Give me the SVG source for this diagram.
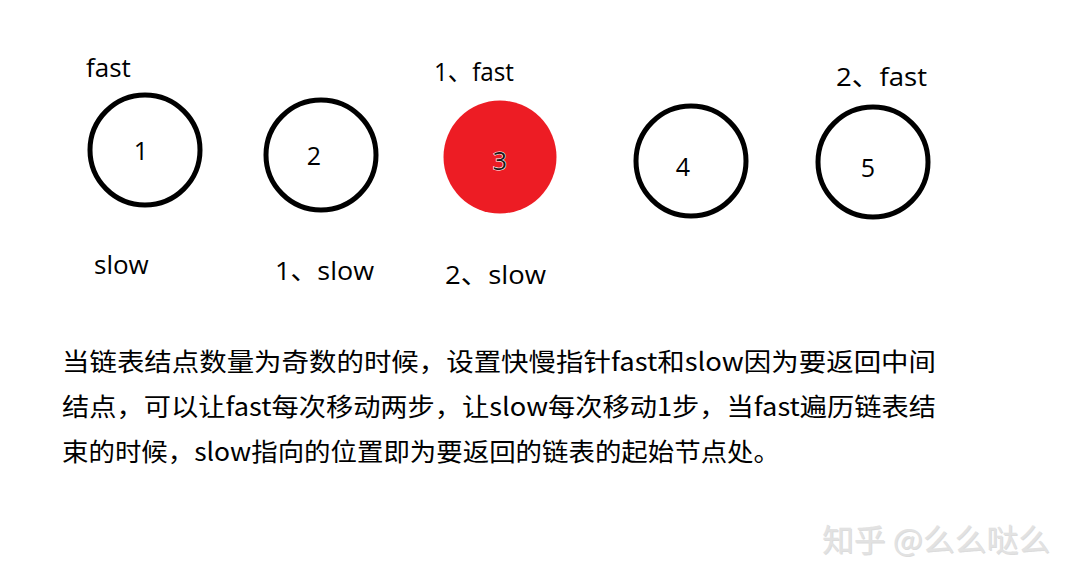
<svg xmlns="http://www.w3.org/2000/svg" width="1079" height="585" viewBox="0 0 1079 585">
<style>
.n{fill:#fff;stroke:#000;stroke-width:5}
.t{font-family:"Open Sans","Noto Sans","Noto Sans CJK SC",sans-serif;font-size:26px;fill:#000}
.num{font-family:"Open Sans","Noto Sans",sans-serif;font-size:25px;fill:#000;text-anchor:middle}
.p{font-family:"Noto Sans CJK SC","Noto Sans",sans-serif;font-size:25px;fill:#000}
.w{font-family:"Noto Sans CJK SC",sans-serif;font-size:31px;fill:#e2e2e2}
</style>
<rect width="1079" height="585" fill="#fff"/>
<g id="connectors"/>
<g id="node1"><circle class="n" cx="145" cy="150" r="55"/><text class="num" x="141" y="160">1</text></g>
<g id="node2"><circle class="n" cx="321" cy="155" r="55"/><text class="num" x="314" y="165">2</text></g>
<g id="node3"><circle cx="500" cy="157" r="56.5" fill="#ed1c24"/><text class="num" x="500" y="170" style="fill:#1a1a1a;stroke:#fff;stroke-width:1.2;paint-order:stroke">3</text></g>
<g id="node4"><circle class="n" cx="691" cy="161" r="55"/><text class="num" x="683" y="176">4</text></g>
<g id="node5"><circle class="n" cx="873" cy="162" r="55"/><text class="num" x="868" y="177">5</text></g>
<g id="labels">
<text class="t" x="86" y="77">fast</text>
<text class="t" x="434" y="81" textLength="80" lengthAdjust="spacingAndGlyphs">1、fast</text>
<text class="t" x="836" y="86" textLength="91" lengthAdjust="spacingAndGlyphs">2、fast</text>
<text class="t" x="94" y="274">slow</text>
<text class="t" x="275" y="280" textLength="99" lengthAdjust="spacingAndGlyphs">1、slow</text>
<text class="t" x="445" y="284" textLength="101" lengthAdjust="spacingAndGlyphs">2、slow</text>
</g>
<g id="paragraph">
<text class="p" x="62" y="371" textLength="874" lengthAdjust="spacingAndGlyphs">当链表结点数量为奇数的时候，设置快慢指针fast和slow因为要返回中间</text>
<text class="p" x="62" y="416" textLength="874" lengthAdjust="spacingAndGlyphs">结点，可以让fast每次移动两步，让slow每次移动1步，当fast遍历链表结</text>
<text class="p" x="62" y="461" textLength="718" lengthAdjust="spacingAndGlyphs">束的时候，slow指向的位置即为要返回的链表的起始节点处。</text>
</g>
<g id="watermark">
<text class="w" x="823" y="552" style="fill:#bbb" opacity="0.5" textLength="228" lengthAdjust="spacingAndGlyphs">知乎 @么么哒么</text>
<text class="w" x="822" y="551" textLength="228" lengthAdjust="spacingAndGlyphs">知乎 @么么哒么</text>
</g>
</svg>
